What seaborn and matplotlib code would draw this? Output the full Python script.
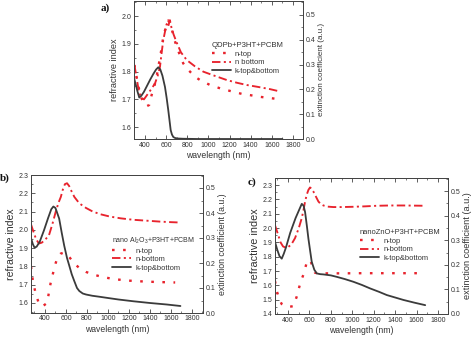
import numpy as np
import pandas as pd
import matplotlib
matplotlib.use("Agg")
import matplotlib.pyplot as plt
from matplotlib.lines import Line2D
from matplotlib.ticker import MultipleLocator, FormatStrFormatter
import seaborn as sns

# ---------------- data ----------------
# (a) QDPb + P3HT + PCBM
a_wl_ntop = [300, 330, 360, 390, 415, 440, 463, 490, 510, 535, 555, 573, 590, 605, 620,
             636, 652, 675, 700, 730, 762, 800, 842, 880, 920, 1015, 1110, 1210, 1315,
             1400, 1472, 1580, 1680]
a_ntop = [1.824, 1.76, 1.71, 1.685, 1.675, 1.68, 1.716, 1.75, 1.782, 1.836, 1.88, 1.926,
          1.95, 1.965, 1.985, 1.975, 1.956, 1.92, 1.89, 1.86, 1.83, 1.81, 1.794, 1.78,
          1.77, 1.752, 1.74, 1.73, 1.72, 1.715, 1.71, 1.705, 1.70]
a_wl_nbot = [300, 320, 337, 355, 369, 390, 431, 465, 495, 520, 542, 558, 573, 589, 605,
             618, 636, 650, 670, 700, 740, 795, 870, 952, 1060, 1173, 1270, 1362, 1470,
             1583, 1661]
a_nbot = [1.824, 1.78, 1.74, 1.715, 1.705, 1.70, 1.722, 1.74, 1.758, 1.785, 1.818, 1.87,
          1.914, 1.944, 1.972, 1.962, 1.986, 1.96, 1.935, 1.905, 1.87, 1.842, 1.82, 1.80,
          1.785, 1.77, 1.76, 1.752, 1.745, 1.737, 1.73]
a_wl_k = [296, 315, 330, 346, 365, 390, 420, 450, 480, 505, 526, 545, 565, 589, 605, 620,
          632, 643, 655, 668, 685, 710, 760, 900, 1200, 1500, 1700]
a_k = [0.246, 0.215, 0.19, 0.167, 0.174, 0.19, 0.215, 0.24, 0.263, 0.28, 0.289, 0.28,
       0.255, 0.21, 0.165, 0.117, 0.075, 0.036, 0.018, 0.008, 0.004, 0.002, 0.001, 0.0,
       0.0, 0.0, 0.0]

# (b) nano Al2O3 + P3HT + PCBM
b_wl_ntop = [267, 285, 310, 340, 374, 420, 454, 480, 503, 525, 550, 580, 610, 640, 680,
             730, 790, 860, 950, 1060, 1200, 1350, 1500, 1640]
b_ntop = [1.80, 1.72, 1.655, 1.60, 1.58, 1.60, 1.709, 1.77, 1.82, 1.855, 1.87, 1.875,
          1.865, 1.845, 1.815, 1.79, 1.77, 1.755, 1.742, 1.73, 1.722, 1.717, 1.714, 1.712]
b_wl_nbot = [267, 290, 315, 342, 370, 400, 438, 470, 503, 530, 551, 570, 590, 610, 630,
             647, 680, 727, 790, 855, 930, 1015, 1120, 1240, 1370, 1496, 1600, 1690]
b_nbot = [2.03, 1.99, 1.95, 1.925, 1.93, 1.945, 1.97, 2.03, 2.10, 2.15, 2.18, 2.22, 2.25,
          2.255, 2.24, 2.218, 2.18, 2.145, 2.12, 2.10, 2.085, 2.073, 2.063, 2.055, 2.05,
          2.045, 2.042, 2.04]
b_wl_k = [267, 285, 300, 320, 350, 390, 430, 460, 480, 500, 535, 560, 583, 610, 631, 655,
          679, 705, 727, 760, 791, 850, 919, 1000, 1100, 1240, 1400, 1560, 1690]
b_k = [0.30, 0.275, 0.262, 0.265, 0.285, 0.33, 0.38, 0.415, 0.426, 0.42, 0.378, 0.32,
       0.27, 0.22, 0.19, 0.155, 0.128, 0.10, 0.088, 0.078, 0.074, 0.069, 0.065, 0.06,
       0.054, 0.047, 0.04, 0.034, 0.028]

# (c) nano ZnO + P3HT + PCBM
c_wl_ntop = [278, 295, 315, 340, 372, 410, 450, 480, 506, 525, 543, 560, 575, 599, 615,
             635, 652, 680, 750, 900, 1100, 1300, 1500, 1680]
c_ntop = [1.63, 1.56, 1.51, 1.47, 1.453, 1.45, 1.455, 1.52, 1.593, 1.64, 1.674, 1.72,
          1.763, 1.779, 1.76, 1.715, 1.688, 1.684, 1.684, 1.684, 1.685, 1.685, 1.685, 1.685]
c_wl_nbot = [278, 300, 330, 353, 388, 430, 465, 500, 528, 545, 559, 575, 590, 605, 620,
             636, 660, 683, 705, 730, 770, 823, 900, 1010, 1120, 1229, 1350, 1478, 1580,
             1680]
c_nbot = [2.02, 1.97, 1.90, 1.872, 1.86, 1.885, 1.93, 2.00, 2.07, 2.13, 2.186, 2.235,
          2.267, 2.284, 2.275, 2.256, 2.22, 2.186, 2.168, 2.158, 2.15, 2.147, 2.147, 2.149,
          2.152, 2.156, 2.158, 2.158, 2.157, 2.156]
c_wl_k = [278, 300, 320, 341, 360, 380, 420, 470, 500, 528, 545, 559, 575, 590, 605, 621,
          645, 668, 700, 730, 800, 855, 930, 1010, 1090, 1166, 1250, 1322, 1400, 1478,
          1580, 1680]
c_k = [0.293, 0.26, 0.235, 0.225, 0.245, 0.27, 0.33, 0.39, 0.42, 0.448, 0.44, 0.414,
       0.36, 0.306, 0.26, 0.212, 0.18, 0.165, 0.162, 0.161, 0.157, 0.151, 0.142, 0.131,
       0.118, 0.104, 0.09, 0.077, 0.067, 0.057, 0.046, 0.036]

legend_labels = ["n-top", "n-bottom", "k-top&bottom"]
legend_labels_a = ["n-top", "n bottom", "k-top&bottom"]
titles = ["QDPb+P3HT+PCBM", "nano Al$_2$O$_3$+P3HT+PCBM", "nanoZnO+P3HT+PCBM"]

# ---------------- style ----------------
sns.set_style("ticks")
plt.rcParams["font.family"] = ["Liberation Sans", "DejaVu Sans"]
plt.rcParams["mathtext.fontset"] = "custom"
plt.rcParams["mathtext.rm"] = "Liberation Sans"
plt.rcParams["mathtext.it"] = "Liberation Sans"

RED = "#e8232d"
DARK = "#3b3b3b"
AXC = "#444444"
TXT = "#333333"
DOT = (0, (1.1, 3.6))
DASHDOT = (0, (4.5, 1.8, 1.1, 1.8))
LW_DOT = 1.7
LW_DD = 1.35
LW_K = 1.3

W, H = 474, 341
fig = plt.figure(figsize=(W / 100, H / 100), dpi=100)


def rect(l, t, r, b):
    return [l / W, 1 - b / H, (r - l) / W, (b - t) / H]


def panel(box, xlim, ylim, klim, ntop, nbot, kk, title, labels, leg_xy, title_size,
          ylab_size, klab_size, top_ticks, letter, letter_xy):
    ax = fig.add_axes(box)
    ax2 = ax.twinx()
    d_top = pd.DataFrame({"wl": ntop[0], "n": ntop[1]})
    d_bot = pd.DataFrame({"wl": nbot[0], "n": nbot[1]})
    d_k = pd.DataFrame({"wl": kk[0], "k": kk[1]})
    sns.lineplot(data=d_top, x="wl", y="n", ax=ax, color=RED, lw=LW_DOT,
                 linestyle=DOT, estimator=None, sort=False)
    sns.lineplot(data=d_bot, x="wl", y="n", ax=ax, color=RED, lw=LW_DD,
                 linestyle=DASHDOT, estimator=None, sort=False)
    sns.lineplot(data=d_k, x="wl", y="k", ax=ax2, color=DARK, lw=LW_K,
                 estimator=None, sort=False)

    ax.set_xlim(*xlim)
    ax.set_ylim(*ylim)
    ax2.set_ylim(*klim)
    ax.xaxis.set_major_locator(MultipleLocator(200))
    ax.xaxis.set_minor_locator(MultipleLocator(100))
    ax.yaxis.set_major_locator(MultipleLocator(0.1))
    ax.yaxis.set_minor_locator(MultipleLocator(0.05))
    ax.yaxis.set_major_formatter(FormatStrFormatter("%.1f"))
    ax2.yaxis.set_major_locator(MultipleLocator(0.1))
    ax2.yaxis.set_minor_locator(MultipleLocator(0.05))
    ax2.yaxis.set_major_formatter(FormatStrFormatter("%.1f"))

    for a in (ax, ax2):
        a.tick_params(which="major", direction="in", length=2.6, width=0.6,
                      labelsize=5, pad=1.8, color=AXC, labelcolor=TXT)
        a.tick_params(which="minor", direction="in", length=1.4, width=0.5, color=AXC)
        for s in a.spines.values():
            s.set_visible(True)
            s.set_linewidth(0.7)
            s.set_color(AXC)
    ax.tick_params(which="both", top=top_ticks, right=False)
    ax2.tick_params(which="both", left=False, right=True)

    ax.set_xlabel("wavelength (nm)", fontsize=6.2, color=TXT, labelpad=2)
    ax.set_ylabel("refractive index", fontsize=ylab_size, color=TXT, labelpad=2)
    ax2.set_ylabel("extinction coefficient (a.u.)", fontsize=klab_size, color=TXT,
                   labelpad=2)

    handles = [Line2D([], [], color=RED, lw=LW_DOT, linestyle=DOT),
               Line2D([], [], color=RED, lw=LW_DD, linestyle=DASHDOT),
               Line2D([], [], color=DARK, lw=LW_K)]
    leg = ax2.legend(handles, labels, title=title, loc="upper left",
                     bbox_to_anchor=leg_xy, frameon=False, fontsize=5.4,
                     title_fontsize=title_size, handlelength=2.6, handletextpad=0.5,
                     labelspacing=0.18, borderpad=0, borderaxespad=0,
                     alignment="left")
    for t in leg.get_texts():
        t.set_color(TXT)
    leg.get_title().set_color(TXT)

    fig.text(letter_xy[0] / W, 1 - letter_xy[1] / H, letter, fontsize=8,
             fontweight="bold", family="Liberation Serif", color="#111111",
             ha="left", va="center")
    return ax, ax2


panel(rect(134, 0.5, 303, 139), (296, 1895), (1.557, 2.057), (0, 0.558),
      (a_wl_ntop, a_ntop), (a_wl_nbot, a_nbot), (a_wl_k, a_k),
      titles[0], legend_labels_a, (0.46, 0.70), 5.6, 6.6, 5.8, True, "a)", (101, 8))

panel(rect(31, 175, 203, 313), (267, 1905), (1.545, 2.30), (0, 0.552),
      (b_wl_ntop, b_ntop), (b_wl_nbot, b_nbot), (b_wl_k, b_k),
      titles[1], legend_labels, (0.47, 0.56), 5.0, 7.6, 6.3, False, "b)", (0, 178))

panel(rect(275, 178, 448, 314), (278, 1893), (1.40, 2.35), (0, 0.553),
      (c_wl_ntop, c_ntop), (c_wl_nbot, c_nbot), (c_wl_k, c_k),
      titles[2], legend_labels, (0.49, 0.625), 5.4, 7.8, 6.6, True, "c)", (248, 182))

fig.savefig("out.png", dpi=100)
